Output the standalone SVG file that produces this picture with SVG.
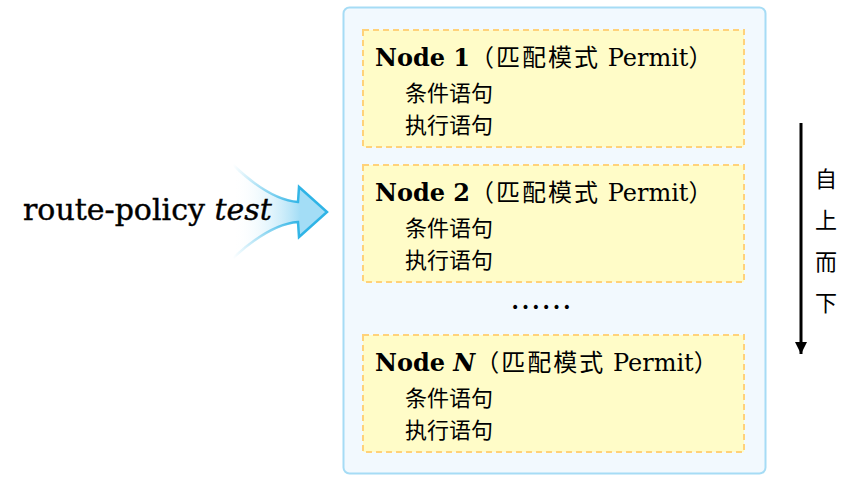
<svg xmlns="http://www.w3.org/2000/svg" width="855" height="495" viewBox="0 0 855 495">
<defs>
<linearGradient id="fillG" x1="233" y1="0" x2="300" y2="0" gradientUnits="userSpaceOnUse">
<stop offset="0" stop-color="#ffffff" stop-opacity="0"/>
<stop offset="1" stop-color="#a3ddf6"/>
</linearGradient>
<linearGradient id="strokeG" x1="233" y1="0" x2="300" y2="0" gradientUnits="userSpaceOnUse">
<stop offset="0" stop-color="#2fb4e6" stop-opacity="0"/>
<stop offset="1" stop-color="#2fb4e6"/>
</linearGradient>
<marker id="ah" viewBox="0 0 10 10" refX="10" refY="5" markerWidth="4" markerHeight="4" orient="auto" markerUnits="strokeWidth">
<path d="M0,0 L10,5 L0,10 z" fill="#000"/>
</marker>
<style>
.t{font-family:"DejaVu Serif",serif;font-size:24px;fill:#000}
.b{font-weight:bold}
.k{font-family:"Noto Sans CJK SC",sans-serif;font-size:24px;letter-spacing:2px}
.c{font-family:"Noto Sans CJK SC",sans-serif;font-size:22px;fill:#000}
.node{fill:#fffcc8;stroke:#ffd27a;stroke-width:2;stroke-dasharray:6 4}
</style>
</defs>
<rect x="343.5" y="7.5" width="422" height="466" rx="6" fill="#f2f9fe" stroke="#a6dcf5" stroke-width="2"/>
<g id="connectors">
<path d="M233,165 Q270,200 298,202 L299,187 L327,212 L299,237 L298,222 Q270,224 233,258 Z" fill="url(#fillG)"/>
<path d="M233,165 Q270,200 298,202 L299,187 L327,212 L299,237 L298,222 Q270,224 233,258" fill="none" stroke="url(#strokeG)" stroke-width="2.5" stroke-linejoin="miter"/>
<line x1="801" y1="123" x2="801" y2="354" stroke="#000" stroke-width="3" marker-end="url(#ah)"/>
</g>
<g id="source">
<text class="t" x="23" y="220" style="font-size:30px" stroke="#000" stroke-width="0.4">route-policy <tspan font-style="italic">test</tspan></text>
</g>
<g id="node1">
<rect class="node" x="363" y="30" width="381" height="117"/>
<text class="t" x="375" y="66"><tspan class="b">Node 1</tspan><tspan class="k">（匹配模式</tspan> Permit<tspan class="k">）</tspan></text>
<text class="c" x="405" y="101">条件语句</text>
<text class="c" x="405" y="133">执行语句</text>
</g>
<g id="node2">
<rect class="node" x="363" y="165" width="381" height="117"/>
<text class="t" x="375" y="201"><tspan class="b">Node 2</tspan><tspan class="k">（匹配模式</tspan> Permit<tspan class="k">）</tspan></text>
<text class="c" x="405" y="236">条件语句</text>
<text class="c" x="405" y="268">执行语句</text>
</g>
<g id="ellipsis">
<text class="t" x="541" y="309" text-anchor="middle" style="font-size:31px">……</text>
</g>
<g id="nodeN">
<rect class="node" x="363" y="335" width="381" height="117"/>
<text class="t" x="375" y="371"><tspan class="b">Node <tspan font-style="italic">N</tspan></tspan><tspan class="k">（匹配模式</tspan> Permit<tspan class="k">）</tspan></text>
<text class="c" x="405" y="406">条件语句</text>
<text class="c" x="405" y="438">执行语句</text>
</g>
<g id="direction">
<text class="c" x="826" y="187" text-anchor="middle">自</text>
<text class="c" x="826" y="228" text-anchor="middle">上</text>
<text class="c" x="826" y="270" text-anchor="middle">而</text>
<text class="c" x="826" y="311" text-anchor="middle">下</text>
</g>
</svg>
